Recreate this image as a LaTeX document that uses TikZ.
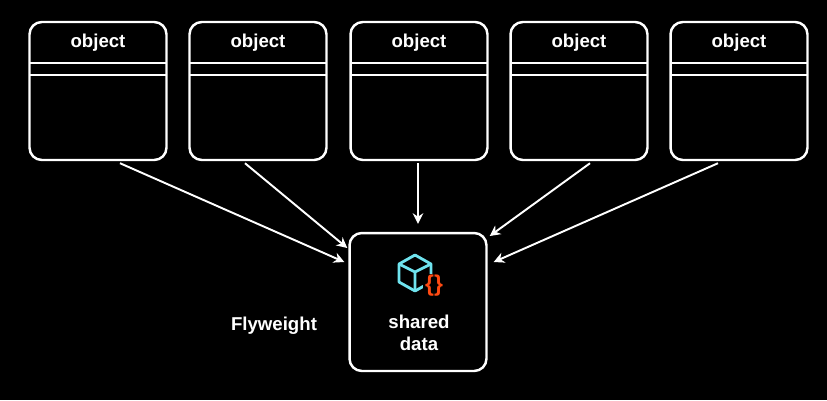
\documentclass[tikz,border=0pt]{standalone}
\usepackage{fontspec}
\setmainfont{Liberation Sans}
\usetikzlibrary{calc, arrows.meta}

\definecolor{cubecyan}{HTML}{6FE3EE}
\definecolor{braceorange}{HTML}{FF4A12}

\tikzset{
  box/.style = {draw=white, line width=1.4pt, rounded corners=7pt,
                minimum width=2.74cm, minimum height=2.76cm, inner sep=0pt},
  lbl/.style = {text=white, font=\fontsize{10.6}{12.6}\selectfont\bfseries},
  link/.style = {draw=white, line width=1.1pt, -{Stealth[length=6pt,width=6pt]}}
}

\begin{document}
\begin{tikzpicture}[x=0.02cm, y=-0.02cm]
\fill[black] (0,0) rectangle (827,400);
\useasboundingbox (0,0) rectangle (827,400);

% the five objects
\foreach \i/\x in {1/98, 2/258, 3/419, 4/579, 5/739} {
  \node[box] (o\i) at (\x,91) {};
  \node[lbl] at (\x,43) {object};
  \draw[white, line width=1.1pt] (\x-68.5,63) -- (\x+68.5,63)
                                 (\x-68.5,75) -- (\x+68.5,75);
}

% shared flyweight
\node[box] (fw) at (418,302) {};
\node[lbl, align=center] (sd) at (419,333) {shared\\data};
\node[lbl] (fl) at (274,326) {Flyweight};

% icon
\begin{scope}[shift={(415,273)}, cubecyan, line width=1.6pt, line join=round]
  \draw (0,-18) -- (16,-9) -- (16,9) -- (0,18) -- (-16,9) -- (-16,-9) -- cycle;
  \draw (-16,-9) -- (0,-1) -- (16,-9) (0,-1) -- (0,18);
\end{scope}
\node[text=braceorange, font=\fontsize{13}{14}\selectfont\bfseries, fill=black,
      inner sep=1pt] (br) at (434,286) {\{\}};

% links
\draw[link] ($(o1.south)+(22,2)$) -- ($(fw.west)+(-4,-40)$);
\draw[link] ($(o2.south)+(-13,2)$) -- ($(fw.west)+(-1,-54)$);
\draw[link] ($(o3.south)+(-1,2)$) -- ($(fw.north)+(0,-8)$);
\draw[link] ($(o4.south)+(11,2)$) -- ($(fw.east)+(2,-66)$);
\draw[link] ($(o5.south)+(-21,2)$) -- ($(fw.east)+(6,-40)$);
\end{tikzpicture}
\end{document}
